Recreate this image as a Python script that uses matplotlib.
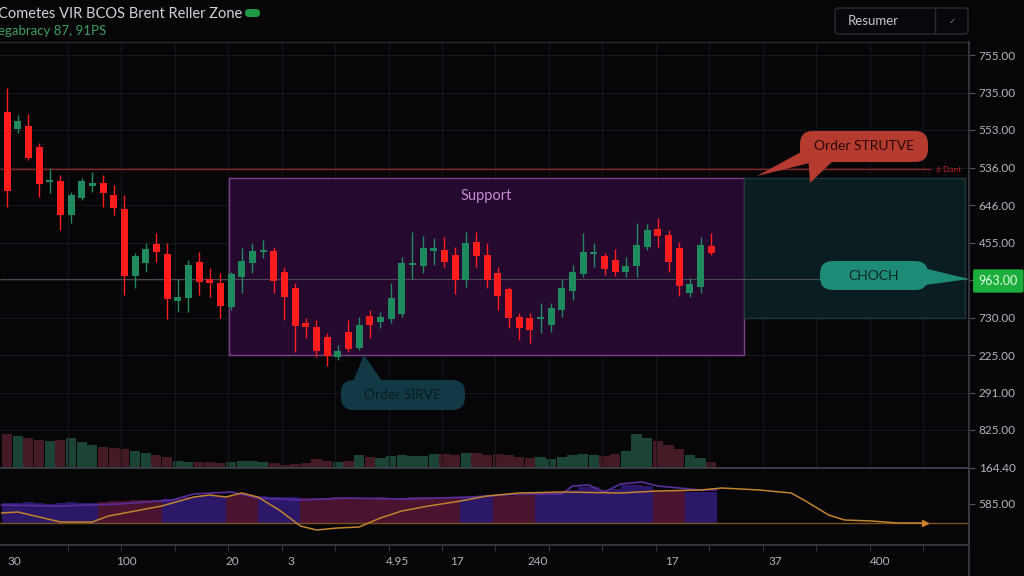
import numpy as np
import matplotlib
matplotlib.use("Agg")
import matplotlib.pyplot as plt
from matplotlib.patches import FancyBboxPatch, Polygon, Rectangle

plt.rcParams['font.family'] = ['Lato', 'DejaVu Sans']

# --- candle data (price units) ---
opens = [288, 271, 274, 253, 218, 219, 185, 202, 214, 217, 205, 191, 124, 137, 156, 146, 99, 102, 138, 121,
         117, 93, 123, 137, 148, 149, 128, 112, 77, 73, 63, 43, 68, 52, 84, 78, 81, 86, 135, 134,
         149, 150, 145, 120, 158, 145, 127, 111, 83, 82, 81, 75, 90, 109, 126, 146, 144, 140, 128, 134,
         153, 171, 165, 152, 107, 113, 154]
highs = [312, 285, 286, 257, 232, 225, 208, 222, 228, 225, 215, 205, 147, 157, 167, 157, 121, 140, 148, 132,
         127, 128, 152, 157, 160, 153, 133, 117, 82, 80, 67, 55, 80, 83, 90, 88, 117, 143, 168, 164,
         162, 163, 153, 168, 168, 157, 133, 113, 87, 87, 97, 97, 120, 135, 167, 157, 147, 151, 143, 177,
         176, 182, 170, 158, 122, 163, 167]
lows = [193, 267, 240, 203, 207, 170, 177, 200, 208, 193, 185, 105, 112, 128, 138, 81, 88, 88, 105, 103,
        82, 90, 107, 127, 142, 107, 80, 48, 62, 43, 34, 40, 48, 50, 62, 72, 77, 83, 121, 127,
        135, 133, 106, 113, 133, 112, 90, 72, 60, 57, 67, 68, 83, 100, 123, 133, 125, 124, 123, 123,
        150, 153, 128, 104, 103, 107, 145]
closes = [209, 279, 242, 216, 220, 185, 205, 219, 217, 207, 192, 124, 144, 151, 148, 101, 103, 135, 118, 117,
          94, 126, 139, 149, 150, 119, 103, 74, 73, 49, 44, 49, 51, 75, 75, 83, 102, 137, 137, 152,
          152, 138, 120, 157, 144, 120, 104, 82, 72, 70, 83, 92, 112, 128, 148, 148, 131, 128, 134, 155,
          170, 164, 138, 114, 116, 155, 147]
volumes = [32, 30, 28, 26, 25, 26, 28, 24, 22, 20, 19, 18, 16, 14, 12, 10, 7, 6, 6, 6,
           5, 6, 7, 7, 6, 5, 3, 4, 5, 8, 7, 6, 7, 12, 10, 9, 11, 12, 11, 11,
           13, 13, 12, 14, 14, 12, 13, 12, 10, 9, 10, 8, 10, 12, 13, 12, 11, 13, 16, 32,
           28, 25, 22, 18, 12, 9, 6]

# oscillator pane
osc_hist = [20, 20, 21, 20, 19, 20, 21, 20, 20, 21, 22, 22, 23, 23, 23, 24, 24, 26, 27, 27,
            27, 27, 28, 27, 27, 26, 26, 26, 25, 25, 25, 26, 25, 25, 25, 26, 25, 25, 26, 26,
            26, 26, 26, 26, 27, 27, 27, 27, 28, 28, 29, 30, 31, 33, 36, 36, 33, 34, 38, 38,
            37, 33, 32, 32, 31, 31, 31]
osc_dir = [1] * 9 + [-1] * 6 + [1] * 6 + [-1] * 3 + [1] * 4 + [-1] * 15 + [1] * 3 + [-1] * 4 + [1] * 11 + [-1] * 3 + [1] * 3
signal_x = [-0.5, 1, 3, 5, 8, 9.5, 11.5, 14.5, 17.5, 19, 20.5, 22, 23.5, 25.5, 27.5, 29, 31, 33, 35, 37,
            39.5, 42.5, 45, 48, 52, 57.5, 61, 65, 67, 70.5, 73.5, 75, 77, 78.5, 81, 83.5, 86]
signal_y = [10, 11, 6, 1, 1, 7, 11, 17, 26, 28, 26, 30, 26, 13, -3, -7, -5, -4, 5, 12,
            17, 22, 27, 30, 31, 30, 32, 33, 35, 33, 30, 21, 8, 3, 2, 0, 0]
env_x = [-0.5, 5, 10.5, 15.5, 17.5, 21, 23.5, 27.5, 32, 37, 43.5, 48, 52, 53, 54.5, 56, 57.5, 59.5, 61, 65, 66.5]
env_y = [18, 17, 19, 23, 29, 31, 25, 23, 25, 24, 26, 29, 29, 37, 38, 31, 39, 41, 37, 33, 33]

# levels / zones
support_top, support_bottom = 222, 45
support_start, support_end = 20.8, 69.1
choch_top, choch_bottom, choch_end = 222, 82, 89.8
resist_level = 231
choch_level = 121

price_labels = ["755.00", "735.00", "553.00", "536.00", "646.00", "455.00", "963.00",
                "730.00", "225.00", "291.00", "825.00", "164.40"]
osc_label = "585.00"
x_labels = ["30", "100", "20", "3", "4.95", "17", "240", "17", "37", "400"]
x_label_pos = [0.7, 11.2, 21.1, 26.6, 36.6, 42.2, 49.7, 62.3, 72.0, 81.8]

BG = '#060609'
RED = '#ff1c1c'
GREEN = '#1f8a5e'
TXT = '#b4b4bc'
GRID = '#16161d'

fig = plt.figure(figsize=(10.24, 5.76), dpi=100, facecolor=BG)
X0, X1 = -0.66, 90.16
main_rect = [0, 108 / 576, 969 / 1024, 426 / 576]

# volume (behind price)
axv = fig.add_axes(main_rect)
axv.set_xlim(X0, X1)
axv.set_ylim(0, 400)
axv.axis('off')

# price axes
ax = fig.add_axes(main_rect)
ax.set_facecolor('none')
ax.set_xlim(X0, X1)
ax.set_ylim(-68, 358)
for s in ax.spines.values():
    s.set_visible(False)
tick_pos = 345 - 37.5 * np.arange(len(price_labels))
ax.yaxis.tick_right()
ax.set_yticks(tick_pos)
ax.set_yticklabels(price_labels)
ax.tick_params(axis='y', colors='#55555c', labelcolor=TXT, labelsize=8.5, length=4, pad=3)
ax.set_xticks(np.arange(5.7, 90, 5.01))
ax.tick_params(axis='x', length=0, labelbottom=False)
ax.grid(True, color=GRID, lw=0.8)
ax.set_axisbelow(True)
for lbl in ax.get_yticklabels():
    if lbl.get_text() == "963.00":
        lbl.set_color('#dfffe0')
        lbl.set_fontsize(9)
        lbl.set_bbox(dict(boxstyle='round,pad=0.45,rounding_size=0.15', fc='#1cae3a', ec='none'))

# zones
ax.add_patch(Rectangle((support_start, support_bottom), support_end - support_start,
                       support_top - support_bottom, fc='#26092f', ec='#7c3f8c', lw=1, zorder=1))
ax.add_patch(Rectangle((support_end, choch_bottom), choch_end - support_end,
                       choch_top - choch_bottom, fc='#0a1d20', ec='#22393b', lw=1, zorder=1))
ax.text((support_start + support_end) / 2, 204, "Support", color='#c58ad6', fontsize=10.5,
        ha='center', va='center', zorder=3)
ax.hlines(resist_level, X0, 86.6, color='#8a2222', lw=1, zorder=2)
ax.text(87.1, resist_level, "6 Dant", color='#c22222', fontsize=6, va='center', zorder=3)
ax.hlines(choch_level, X0, X1, color='#4a4a52', lw=0.8, zorder=2)

# candles
idx = np.arange(len(opens))
o, h, l, c = map(np.array, (opens, highs, lows, closes))
up = c >= o
cols = np.where(up, GREEN, RED)
ax.vlines(idx, l, h, colors=cols, lw=1, zorder=4)
body_h = np.maximum(np.abs(c - o), 1.5)
ax.bar(idx, body_h, bottom=np.minimum(o, c), width=0.66, color=cols, zorder=5)

vcols = np.where(up, '#1b4436', '#441a23')
axv.bar(idx, volumes, width=0.95, color=vcols, zorder=1)

# oscillator axes
axo = fig.add_axes([0, 31 / 576, 969 / 1024, 77 / 576])
axo.set_facecolor('none')
axo.set_xlim(X0, X1)
axo.set_ylim(-22, 55)
axo.spines['left'].set_visible(False)
for k in ['top', 'bottom', 'right']:
    axo.spines[k].set_color('#3c3c44')
    axo.spines[k].set_linewidth(1.2)
hcols = np.where(np.array(osc_dir) > 0, '#2c1869', '#4a1431')
axo.bar(idx, osc_hist, width=1.0, color=hcols, zorder=1)
axo.axhline(0, color='#7a5120', lw=1, zorder=2)
axo.plot(env_x, env_y, color='#5a2e9a', lw=1.2, zorder=3)
axo.plot(signal_x, signal_y, color='#c2832e', lw=1.1, zorder=4)
axo.plot(signal_x[-1], signal_y[-1], marker='>', color='#d0802a', ms=4, zorder=5)
axo.yaxis.tick_right()
axo.set_yticks([19])
axo.set_yticklabels([osc_label])
axo.tick_params(axis='y', colors='#55555c', labelcolor=TXT, labelsize=8.5, length=4, pad=3)
axo.set_xticks(x_label_pos)
axo.set_xticklabels(x_labels)
axo.tick_params(axis='x', length=0, labelcolor=TXT, labelsize=8.5, pad=8)
axo.set_xticks(np.arange(5.7, 90, 5.01), minor=True)
axo.tick_params(axis='x', which='minor', length=4, color='#3c3c44')

# overlay in pixel coords
ov = fig.add_axes([0, 0, 1, 1])
ov.set_xlim(0, 1024)
ov.set_ylim(576, 0)
ov.axis('off')
ov.set_facecolor('none')
ov.plot([0, 969], [42, 42], color='#2a2a30', lw=1)
ov.plot([969, 969], [42, 576], color='#3c3c44', lw=1.2)
ov.plot([0, 969], [468, 468], color='#3c3c44', lw=1.2)


def callout(x, y, w, hgt, fc, text, tc, tails):
    for t in tails:
        ov.add_patch(Polygon(t, closed=True, fc=fc, ec='none', zorder=6))
    ov.add_patch(FancyBboxPatch((x, y), w, hgt, boxstyle='round,pad=0,rounding_size=13',
                                fc=fc, ec='none', zorder=7))
    ov.text(x + w / 2, y + hgt / 2, text, color=tc, fontsize=10, ha='center', va='center', zorder=8)


callout(800, 131, 128, 31, '#b53a2f', "Order STRUTVE", '#2a0806',
        [[(812, 146), (830, 158), (757, 176)], [(808, 155), (836, 158), (810, 183)]])
callout(820, 261, 108, 29, '#1e8b77', "CHOCH", '#0a2622',
        [[(915, 266), (918, 286), (969, 279)]])
callout(341, 380, 124, 30, '#123a46', "Order SIRVE", '#0a1a20',
        [[(352, 384), (384, 384), (364, 355)]])

# header
ov.text(-2, 14, "Cometes VIR BCOS Brent Reller Zone", color='#d2d2d8', fontsize=10.5, va='center')
ov.add_patch(FancyBboxPatch((245, 9), 15, 8, boxstyle='round,pad=0,rounding_size=4',
                            fc='#1f9a44', ec='none'))
ov.text(-2, 31, "egabracy 87, 91PS", color='#3a9e5e', fontsize=9.5, va='center')
ov.add_patch(FancyBboxPatch((835, 8), 133, 26, boxstyle='round,pad=0,rounding_size=3',
                            fc='#08080c', ec='#2a2a32', lw=1))
ov.plot([935, 935], [9, 33], color='#2a2a32', lw=1)
ov.text(848, 21, "Resumer", color='#c4c4cc', fontsize=9.5, va='center')
ov.text(952, 21, "\u2713", color='#7a7a82', fontsize=6, ha='center', va='center')

fig.savefig("out.png", dpi=100, facecolor=BG)
